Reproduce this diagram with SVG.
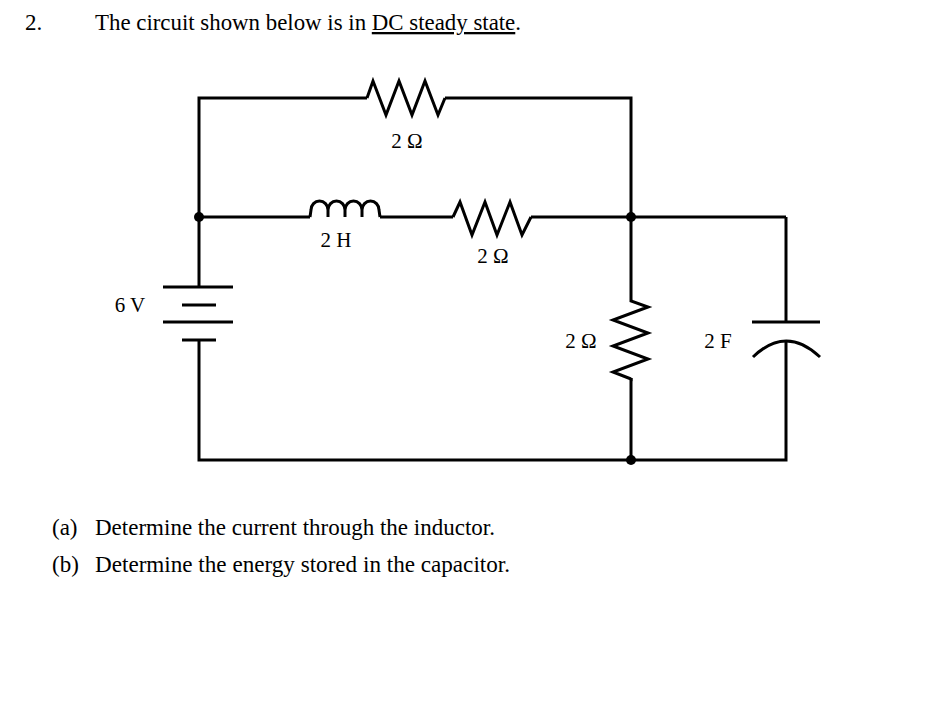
<svg xmlns="http://www.w3.org/2000/svg" width="926" height="722" viewBox="0 0 926 722">
<style>
text{font-family:"Liberation Serif",serif;font-size:21px;fill:#000}
.big{font-size:23px}
.w{stroke:#000;stroke-width:3;fill:none;stroke-linejoin:miter}
</style>
<rect width="926" height="722" fill="#fff"/>
<text class="big" x="25" y="30">2.</text>
<text class="big" x="95" y="30" textLength="426" lengthAdjust="spacingAndGlyphs">The circuit shown below is in <tspan text-decoration="underline">DC steady state</tspan>.</text>
<g id="connectors" class="w">
<polyline points="367,98 199,98 199,287"/>
<polyline points="445,98 631,98 631,300"/>
<line x1="199" y1="217" x2="310" y2="217"/>
<line x1="380" y1="217" x2="453" y2="217"/>
<line x1="531" y1="217" x2="786" y2="217"/>
<line x1="786" y1="217" x2="786" y2="322"/>
<polyline points="199,340 199,460 786,460 786,340"/>
<line x1="631" y1="378" x2="631" y2="460"/>
</g>
<g id="R1"><polyline class="w" points="367,98 373,81 386,115 399,81 412,115 425,81 438,115 445,98"/>
<text x="407" y="148" text-anchor="middle">2 Ω</text></g>
<g id="L1"><path class="w" d="M310,217 L311,210 A8.5,9 0 0 1 328,210 L328,217 M328,217 L328,210 A8.5,9 0 0 1 345,210 L345,217 M345,217 L345,210 A8.5,9 0 0 1 362,210 L362,217 M362,217 L362,210 A8.5,9 0 0 1 379,210 L380,217"/>
<text x="336" y="247" text-anchor="middle">2 H</text></g>
<g id="R2"><polyline class="w" points="453,217 460,202 472,235 485,202 497,235 510,202 522,235 531,217"/>
<text x="493" y="263" text-anchor="middle">2 Ω</text></g>
<g id="V1" class="w"><line x1="163" y1="287" x2="233" y2="287"/><line x1="182" y1="305" x2="216" y2="305"/><line x1="163" y1="322" x2="233" y2="322"/><line x1="182" y1="340" x2="216" y2="340"/></g>
<text x="130" y="312" text-anchor="middle">6 V</text>
<g id="R3"><polyline class="w" points="631,300 631,301 648,307 613,320 648,333 613,346 648,359 613,372 631,379 631,378"/>
<text x="581" y="348" text-anchor="middle">2 Ω</text></g>
<g id="C1"><line class="w" x1="752" y1="322" x2="820" y2="322"/><path class="w" d="M753,357 Q786,325 820,357"/>
<text x="718" y="348" text-anchor="middle">2 F</text></g>
<g id="dots"><circle cx="199" cy="217" r="5"/><circle cx="631" cy="217" r="5"/><circle cx="631" cy="460" r="5"/></g>
<text class="big" x="52" y="535">(a)</text><text class="big" x="95" y="535" textLength="400" lengthAdjust="spacingAndGlyphs">Determine the current through the inductor.</text>
<text class="big" x="52" y="572">(b)</text><text class="big" x="95" y="572" textLength="415" lengthAdjust="spacingAndGlyphs">Determine the energy stored in the capacitor.</text>
</svg>
